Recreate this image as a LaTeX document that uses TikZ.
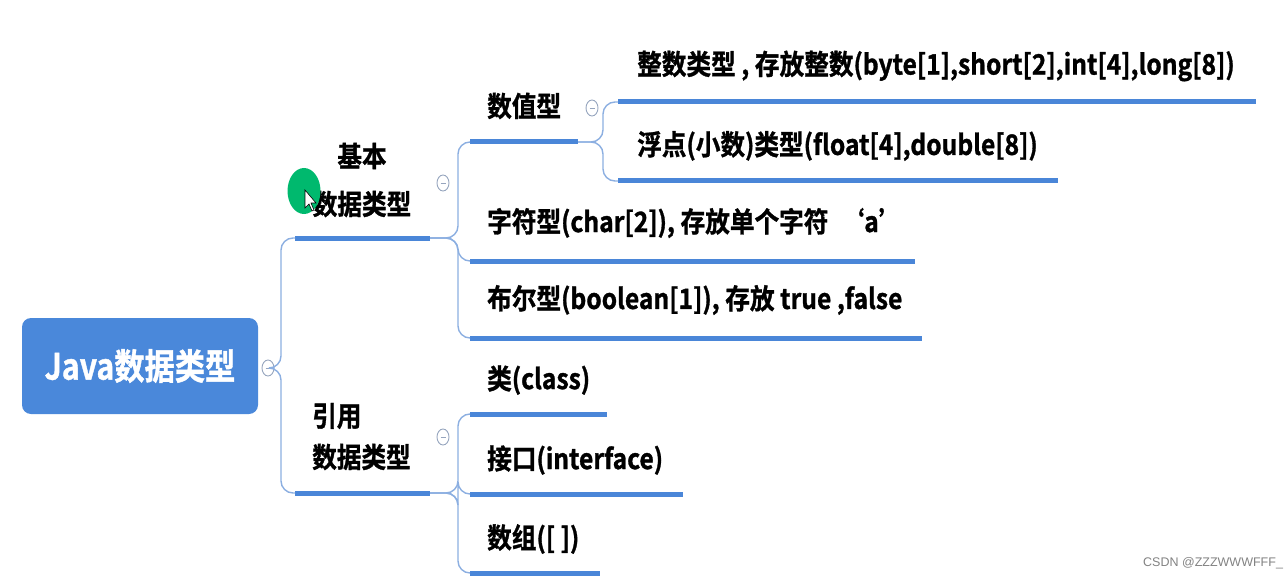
\documentclass[tikz,border=0pt]{standalone}
\usepackage{fontspec}
\newfontfamily\cjk[BoldFont={Noto Sans CJK SC Bold}, BoldFeatures={FakeBold=1.2}]{Noto Sans CJK SC}
\newcommand{\nx}[1]{\scalebox{0.88}[1]{#1}}
\definecolor{ublue}{RGB}{74,134,216}
\definecolor{lblue}{RGB}{140,175,225}
\definecolor{rootblue}{RGB}{74,136,218}
\definecolor{cgray}{RGB}{150,165,190}
\definecolor{wm}{RGB}{130,130,130}
\definecolor{cursorgreen}{RGB}{0,185,110}
\tikzset{
  uline/.style={draw=ublue, line width=5pt},
  conn/.style={draw=lblue, line width=1.4pt, rounded corners=12pt},
  lbl/.style={font=\cjk\bfseries\fontsize{28}{30}\selectfont, anchor=west, inner sep=0pt, text=black},
  coll/.style={draw=cgray, line width=0.9pt, ellipse, minimum width=12pt, minimum height=16pt, inner sep=0pt, fill=white},
}
\usetikzlibrary{shapes.geometric,calc}
\begin{document}
\begin{tikzpicture}[x=1pt,y=-1pt]
\useasboundingbox (0,0) rectangle (1287,580);
% root
\node[fill=rootblue, rounded corners=9pt, minimum width=236pt, minimum height=96pt, inner sep=0pt,
      text=white, font=\cjk\bfseries\fontsize{36}{40}\selectfont] (root) at (140,366) {\scalebox{0.84}[1]{Java数据类型}};
\node[coll] (c0) at (268,368) {};
\draw[cgray, line width=0.8pt] (265.5,368) -- (270.5,368);
% vertical guide x coordinates
\coordinate (x1) at (281,0);
\coordinate (x2) at (458,0);
\coordinate (x3) at (603,0);
% level 1 underlines
\coordinate (jbL) at (295,238); \coordinate (jbR) at (430,238);
\coordinate (yyL) at (295,493); \coordinate (yyR) at (430,493);
\draw[uline] (jbL) -- (jbR);
\draw[uline] (yyL) -- (yyR);
\node[lbl, anchor=center] (jb1) at (362,156) {\nx{基本}};
\node[lbl, anchor=center] (jb2) at (362,204) {\nx{数据类型}};
\node[lbl] (yy1) at (312,416) {\nx{引用}};
\node[lbl] (yy2) at (312,457) {\nx{数据类型}};
\draw[conn] (c0.east) -- (c0.east -| x1) |- (jbL);
\draw[conn] (c0.east) -- (c0.east -| x1) |- (yyL);
% level 2
\coordinate (szL) at (470,142); \coordinate (szR) at (578,142);
\coordinate (zfL) at (470,261); \coordinate (zfR) at (915,261);
\coordinate (beL) at (470,338); \coordinate (beR) at (922,338);
\coordinate (clL) at (470,414); \coordinate (clR) at (607,414);
\coordinate (ifL) at (470,494); \coordinate (ifR) at (683,494);
\coordinate (arL) at (470,573); \coordinate (arR) at (600,573);
\foreach \n in {sz,zf,be,cl,if,ar} {\draw[uline] (\n L) -- (\n R);}
\node[lbl] (sz) at (487,106) {\nx{数值型}};
\node[lbl] (zf) at (487,223) {\nx{字符型(char[2]), 存放单个字符 \ ‘a’}};
\node[lbl] (be) at (487,300) {\nx{布尔型(boolean[1]), 存放 true ,false}};
\node[lbl] (cl) at (487,380) {\nx{类(class)}};
\node[lbl] (if) at (487,460) {\nx{接口(interface)}};
\node[lbl] (ar) at (487,539) {\nx{数组([ ])}};
\node[coll] (c1) at (443,183) {};
\draw[cgray, line width=0.8pt] (440.5,183) -- (445.5,183);
\node[coll] (c2) at (443,437) {};
\draw[cgray, line width=0.8pt] (440.5,437) -- (445.5,437);
\foreach \n in {sz,zf,be} {\draw[conn] (jbR) -- (jbR -| x2) |- (\n L);}
\foreach \n in {cl,if,ar} {\draw[conn] (yyR) -- (yyR -| x2) |- (\n L);}
% level 3
\coordinate (zsL) at (618,102); \coordinate (zsR) at (1256,102);
\coordinate (fdL) at (618,181); \coordinate (fdR) at (1058,181);
\draw[uline] (zsL) -- (zsR);
\draw[uline] (fdL) -- (fdR);
\node[lbl] (zs) at (637,66) {\nx{整数类型 , 存放整数(byte[1],short[2],int[4],long[8])}};
\node[lbl] (fd) at (637,146) {\nx{浮点(小数)类型(float[4],double[8])}};
\node[coll] (c3) at (592,108) {};
\draw[cgray, line width=0.8pt] (589.5,108) -- (594.5,108);
\foreach \n in {zs,fd} {\draw[conn] (szR) -- (szR -| x3) |- (\n L);}
% cursor artifact
\node[ellipse, fill=cursorgreen, minimum width=33pt, minimum height=46pt, inner sep=0pt] (cur) at (304,191) {};
\draw[fill=white, draw=black, line width=0.6pt] (305,190) -- (305,208) -- (309,204) -- (312,211) -- (314,210) -- (311,203) -- (316,203) -- cycle;
% watermark
\node[anchor=west, inner sep=0pt, text=wm, font=\fontspec{Liberation Sans}\fontsize{12.5}{14}\selectfont] (wm) at (1143,563) {CSDN @ZZZWWWFFF\_};
\end{tikzpicture}
\end{document}
